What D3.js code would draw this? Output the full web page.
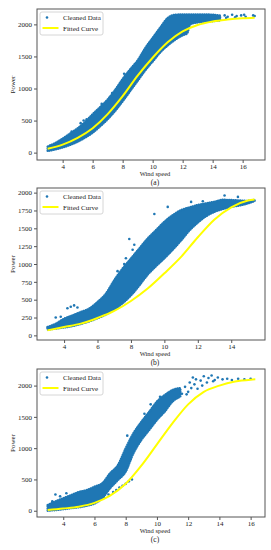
<!DOCTYPE html>
<html>
<head>
<meta charset="utf-8">
<script src="https://cdn.jsdelivr.net/npm/d3@7"></script>
<style>
  body { margin: 0; background: #fff; }
  svg text { font-family: "Liberation Serif", "Times New Roman", serif; fill: #222; }
</style>
</head>
<body>
<div id="chart"></div>
<script>
// ---- panel (a) ----
const bandWindA = [3.0, 3.5, 4, 4.5, 5, 5.5, 6, 6.5, 7, 7.5, 8, 8.5, 9, 9.5, 10, 10.5, 11, 11.5, 12, 12.3, 12.5, 13, 13.5, 14, 14.5];
const bandHighA = [95, 150, 220, 300, 380, 480, 600, 710, 830, 980, 1150, 1300, 1440, 1630, 1790, 1950, 2100, 2150, 2155, 2155, 2155, 2155, 2155, 2150, 2140];
const bandLowA  = [25, 50, 80, 120, 170, 235, 310, 410, 520, 650, 800, 960, 1120, 1280, 1420, 1560, 1670, 1760, 1830, 1860, 2000, 2030, 2040, 2050, 2060];
const sparseWindA  = [3.1, 3.2, 4.6, 5.2, 5.4, 5.6, 6.6, 7.3, 8.1, 14.8, 14.9, 15.0, 15.3, 15.5, 15.6, 15.9, 16.1, 16.2, 16.7, 16.8];
const sparsePowerA = [80, 110, 330, 460, 500, 520, 760, 930, 1230, 2140, 2100, 2120, 2150, 2110, 2130, 2140, 2150, 2120, 2140, 2130];
const fitWindA  = [3, 4, 5, 6, 7, 8, 9, 10, 11, 12, 13, 14, 15, 16, 16.8];
const fitPowerA = [60, 125, 230, 380, 600, 880, 1200, 1480, 1720, 1890, 1990, 2045, 2075, 2095, 2105];

// ---- panel (b) ----
const bandWindB = [3, 3.5, 4, 4.5, 5, 5.5, 6, 6.5, 7, 7.5, 8, 8.5, 9, 9.5, 10, 10.5, 11, 11.5, 12, 12.5, 13, 13.5, 14, 14.5, 15, 15.4];
const bandHighB = [117, 164, 234, 280, 328, 375, 468, 585, 773, 937, 1077, 1218, 1358, 1475, 1592, 1686, 1756, 1794, 1827, 1850, 1873, 1900, 1896, 1890, 1885, 1900];
const bandLowB  = [80, 95, 110, 130, 160, 195, 240, 290, 360, 450, 560, 700, 850, 970, 1080, 1200, 1330, 1470, 1580, 1670, 1730, 1770, 1800, 1820, 1850, 1880];
const sparseWindB  = [3.5, 3.8, 4.2, 4.4, 4.6, 4.8, 7.2, 7.6, 7.7, 7.9, 8.1, 8.2, 9.4, 10.2, 11.6, 12.3, 13.6, 14.4];
const sparsePowerB = [250, 260, 380, 400, 420, 390, 900, 1000, 1080, 1350, 1200, 1270, 1700, 1800, 1870, 1880, 1960, 1940];
const fitWindB  = [3, 4, 5, 6, 7, 8, 9, 10, 11, 12, 13, 14, 15, 15.4];
const fitPowerB = [70, 117, 164, 244, 342, 482, 656, 870, 1100, 1375, 1625, 1795, 1890, 1905];

// ---- panel (c) ----
const bandWindC = [3, 3.5, 4, 4.5, 5, 5.5, 6, 6.5, 7, 7.5, 8, 8.5, 9, 9.5, 10, 10.5, 11, 11.5];
const bandHighC = [90, 150, 200, 250, 300, 330, 385, 440, 600, 730, 1000, 1240, 1420, 1580, 1745, 1850, 1930, 1960];
const bandLowC  = [0, 10, 25, 40, 55, 80, 115, 200, 360, 490, 625, 920, 1130, 1290, 1450, 1585, 1745, 1825];
const sparseWindC  = [3.3, 3.5, 3.8, 4.2, 6.6, 6.9, 7.2, 7.4, 7.6, 7.8, 8.0, 8.2, 8.4, 8.1, 9.2, 9.6, 10.2,
                      11.6, 11.8, 11.9, 12.0, 12.1, 12.2, 12.3, 12.4, 12.5, 12.6, 12.8, 12.9, 13.0, 13.2, 13.3,
                      13.5, 13.6, 13.7, 13.9, 14.2, 14.5, 14.8, 15.2, 15.6, 16.0];
const sparsePowerC = [150, 260, 230, 280, 220, 260, 300, 330, 370, 400, 430, 470, 500, 1200, 1550, 1700, 1820,
                      1870, 1980, 1860, 1900, 2050, 1960, 2130, 2020, 2100, 1950, 2080, 2000, 2150, 2050, 2120,
                      2160, 2070, 2090, 2130, 2100, 2110, 2090, 2110, 2100, 2110];
const fitWindC  = [3, 4, 5, 6, 7, 8, 9, 10, 11, 12, 13, 14, 15, 16, 16.3];
const fitPowerC = [10, 35, 65, 125, 240, 430, 720, 1060, 1400, 1700, 1900, 2000, 2065, 2095, 2100];

const yTicksA = [0, 500, 1000, 1500, 2000];
const yTicksB = [0, 250, 500, 750, 1000, 1250, 1500, 1750, 2000];
const yTicksC = [0, 500, 1000, 1500, 2000];
const xTicksA = [4, 6, 8, 10, 12, 14, 16];
const xTicksB = [4, 6, 8, 10, 12, 14];
const xTicksC = [4, 6, 8, 10, 12, 14, 16];
const legendLabels = ["Cleaned Data", "Fitted Curve"];

const blue = "#1f77b4", yellow = "#ffff00";

const panels = [
  { tag: "(a)", top: 9, bottom: 160, xDom: [2.29, 17.49], yDom: [-115, 2240],
    band: [bandWindA, bandLowA, bandHighA], sparse: [sparseWindA, sparsePowerA],
    fit: [fitWindA, fitPowerA], xt: xTicksA, yt: yTicksA },
  { tag: "(b)", top: 188, bottom: 340, xDom: [2.38, 16.02], yDom: [-65, 2065],
    band: [bandWindB, bandLowB, bandHighB], sparse: [sparseWindB, sparsePowerB],
    fit: [fitWindB, fitPowerB], xt: xTicksB, yt: yTicksB },
  { tag: "(c)", top: 369, bottom: 517, xDom: [2.32, 16.92], yDom: [-100, 2265],
    band: [bandWindC, bandLowC, bandHighC], sparse: [sparseWindC, sparsePowerC],
    fit: [fitWindC, fitPowerC], xt: xTicksC, yt: yTicksC }
];

const left = 37, right = 265;

const svg = d3.select("#chart").append("svg")
  .attr("width", 271).attr("height", 550);

panels.forEach(p => {
  const x = d3.scaleLinear().domain(p.xDom).range([left, right]);
  const y = d3.scaleLinear().domain(p.yDom).range([p.bottom, p.top]);
  const g = svg.append("g");

  // dense part of the cloud, with a dotted outline so the edge looks ragged
  const bandRows = p.band[0].map((w, i) => ({ w: w, lo: p.band[1][i], hi: p.band[2][i] }));
  const bandPath = d3.area().x(d => x(d.w)).y0(d => y(d.lo)).y1(d => y(d.hi)).curve(d3.curveMonotoneX);
  g.append("path").datum(bandRows)
    .attr("fill", blue)
    .attr("d", bandPath);
  g.append("path").datum(bandRows)
    .attr("fill", "none").attr("stroke", blue).attr("stroke-width", 2.4)
    .attr("stroke-linecap", "round").attr("stroke-dasharray", "0.1 2.1")
    .attr("d", bandPath);

  // scattered points
  g.selectAll("circle.pt").data(p.sparse[0].map((w, i) => [w, p.sparse[1][i]]))
    .join("circle").attr("class", "pt")
    .attr("cx", d => x(d[0])).attr("cy", d => y(d[1])).attr("r", 1.3)
    .attr("fill", blue);

  // fitted curve
  const fitRows = p.fit[0].map((w, i) => [w, p.fit[1][i]]);
  g.append("path").datum(fitRows)
    .attr("fill", "none").attr("stroke", yellow).attr("stroke-width", 2)
    .attr("d", d3.line().x(d => x(d[0])).y(d => y(d[1])).curve(d3.curveMonotoneX));

  // axes
  const xa = g.append("g").attr("transform", `translate(0,${p.bottom})`)
    .call(d3.axisBottom(x).tickValues(p.xt).tickSize(3).tickPadding(1.5).tickFormat(d3.format("d")));
  const ya = g.append("g").attr("transform", `translate(${left},0)`)
    .call(d3.axisLeft(y).tickValues(p.yt).tickSize(3).tickPadding(2).tickFormat(d3.format("d")));
  [xa, ya].forEach(a => {
    a.select(".domain").remove();
    a.selectAll("line").attr("stroke", "#555");
    a.selectAll("text").attr("font-size", 7).attr("font-family", "Liberation Serif").attr("fill", "#222");
  });

  // frame
  g.append("rect").attr("x", left).attr("y", p.top)
    .attr("width", right - left).attr("height", p.bottom - p.top)
    .attr("fill", "none").attr("stroke", "#555").attr("stroke-width", 1);

  // labels
  g.append("text").attr("x", (left + right) / 2 + 4).attr("y", p.bottom + 16)
    .attr("text-anchor", "middle").attr("font-size", 6.5).text("Wind speed");
  g.append("text").attr("x", (left + right) / 2 + 4).attr("y", p.bottom + 25)
    .attr("text-anchor", "middle").attr("font-size", 7.5).text(p.tag);
  g.append("text")
    .attr("transform", `translate(15,${(p.top + p.bottom) / 2}) rotate(-90)`)
    .attr("text-anchor", "middle").attr("font-size", 7).text("Power");

  // legend
  const lg = g.append("g").attr("transform", `translate(40,${p.top + 3})`);
  lg.append("rect").attr("width", 63).attr("height", 23).attr("rx", 2)
    .attr("fill", "#fff").attr("fill-opacity", 0.85).attr("stroke", "#ccc").attr("stroke-width", 0.8);
  lg.append("circle").attr("cx", 7).attr("cy", 5.5).attr("r", 1.3).attr("fill", blue);
  lg.append("line").attr("x1", 2.5).attr("x2", 18.5).attr("y1", 16).attr("y2", 16)
    .attr("stroke", yellow).attr("stroke-width", 2);
  legendLabels.forEach((t, i) => {
    lg.append("text").attr("x", 23).attr("y", 8 + i * 10.5).attr("font-size", 7).text(t);
  });
});
</script>
</body>
</html>
